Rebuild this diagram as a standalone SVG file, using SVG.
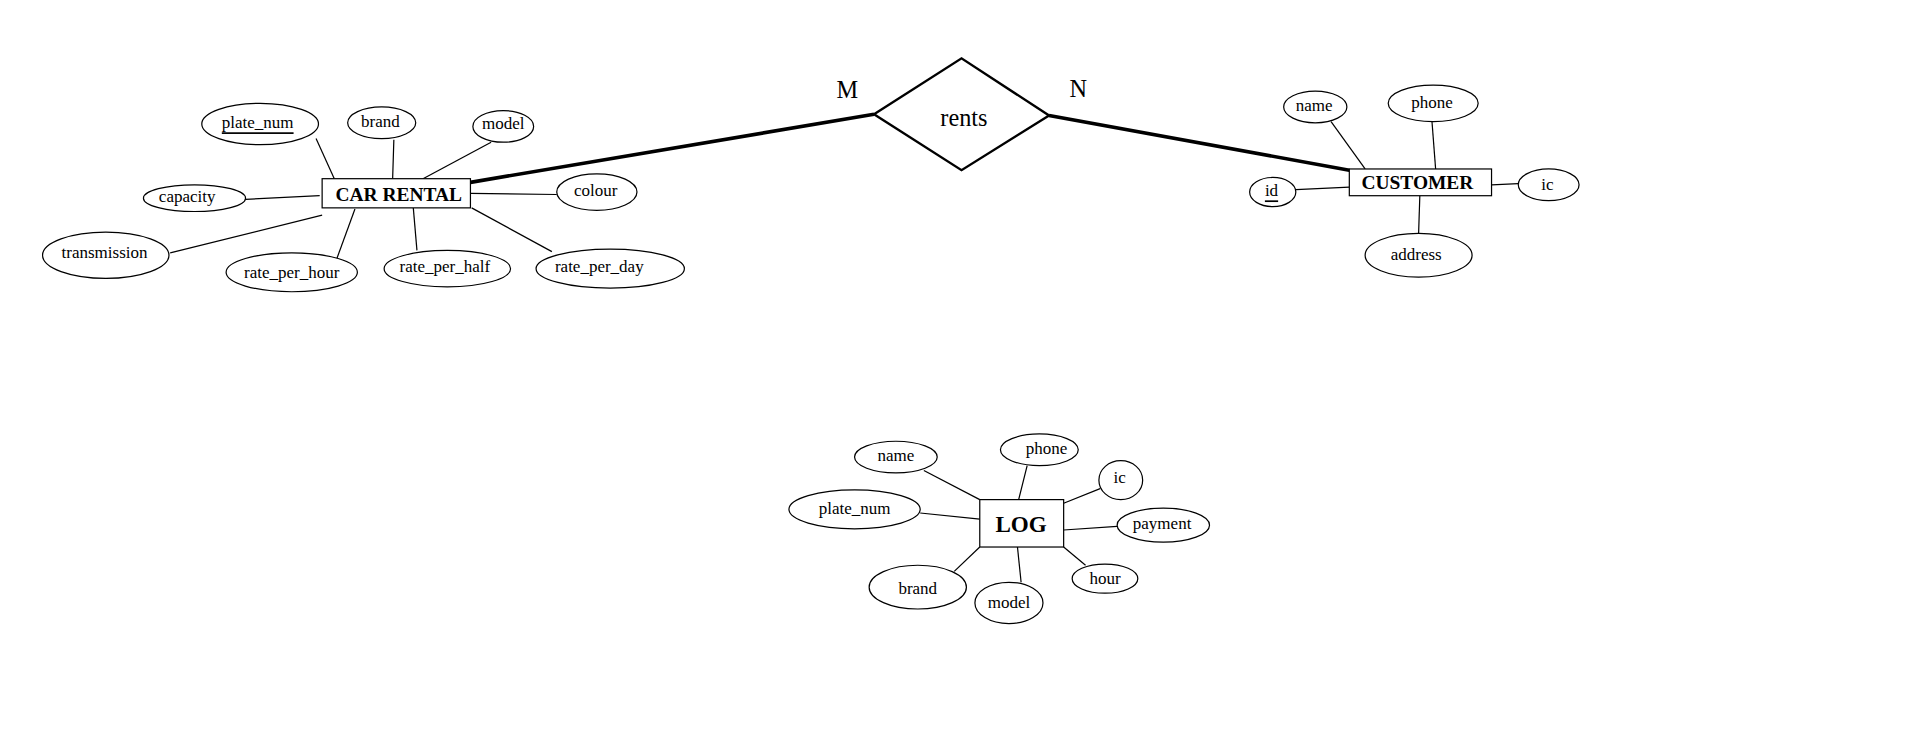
<svg xmlns="http://www.w3.org/2000/svg" width="1906" height="756" viewBox="0 0 1906 756">
<style>
ellipse{fill:#fff;stroke:#000;stroke-width:1}
rect{fill:#fff;stroke:#000;stroke-width:1}
.c line{stroke:#000;stroke-width:1}
.c .t{stroke-width:3}
text{font-family:"Liberation Serif",serif;font-size:14px;text-anchor:middle;dominant-baseline:central;fill:#000}
.e{font-weight:bold;font-size:16px}
.u{text-decoration:underline}
</style>
<rect x="0" y="0" width="1906" height="756" style="fill:#fff;stroke:none"/>
<g transform="scale(1.2156)">
<g class="c" id="connectors">
<line x1="260" y1="114" x2="275" y2="147"/><line x1="324" y1="115" x2="323" y2="147"/><line x1="404" y1="117" x2="348" y2="147"/><line x1="202" y1="164" x2="263" y2="161"/><line x1="387" y1="159" x2="458" y2="160"/><line x1="140" y1="208" x2="265" y2="177"/><line x1="292" y1="172" x2="277" y2="213"/><line x1="340" y1="171" x2="343" y2="206"/><line x1="388" y1="171" x2="454" y2="207"/>
<line class="t" x1="387" y1="150" x2="719" y2="94"/><line class="t" x1="863" y1="95" x2="1110" y2="140"/>
<line x1="1095" y1="100" x2="1123" y2="139"/><line x1="1178" y1="100" x2="1181" y2="139"/><line x1="1066" y1="156" x2="1110" y2="154"/><line x1="1227" y1="152" x2="1249" y2="151"/><line x1="1168" y1="161" x2="1167" y2="192"/>
<line x1="760" y1="387" x2="806" y2="411"/><line x1="845" y1="383" x2="838" y2="411"/><line x1="905" y1="402" x2="875" y2="414"/><line x1="757" y1="422" x2="806" y2="427"/><line x1="919" y1="433" x2="875" y2="436"/><line x1="785" y1="470" x2="806" y2="450"/><line x1="837" y1="450" x2="840" y2="479"/><line x1="875" y1="450" x2="893" y2="465"/>
</g>
<g id="car_rental"><rect x="265" y="147" width="122" height="24"/><text class="e" x="328" y="160">CAR RENTAL</text></g>
<g id="cr_plate_num"><ellipse cx="214" cy="102" rx="48" ry="17"/><text class="u" x="212" y="101">plate_num</text></g>
<g id="cr_brand"><ellipse cx="314" cy="101" rx="28" ry="13"/><text x="313" y="100">brand</text></g>
<g id="cr_model"><ellipse cx="414" cy="104" rx="25" ry="13"/><text x="414" y="102">model</text></g>
<g id="cr_capacity"><ellipse cx="160" cy="163" rx="42" ry="11"/><text x="154" y="162">capacity</text></g>
<g id="cr_colour"><ellipse cx="491" cy="158" rx="33" ry="15"/><text x="490" y="157">colour</text></g>
<g id="cr_transmission"><ellipse cx="87" cy="210" rx="52" ry="19"/><text x="86" y="208">transmission</text></g>
<g id="cr_rate_per_hour"><ellipse cx="240" cy="224" rx="54" ry="16"/><text x="240" y="224">rate_per_hour</text></g>
<g id="cr_rate_per_half"><ellipse cx="368" cy="221" rx="52" ry="15"/><text x="366" y="219">rate_per_half</text></g>
<g id="cr_rate_per_day"><ellipse cx="502" cy="221" rx="61" ry="16"/><text x="493" y="219">rate_per_day</text></g>
<g id="rents"><polygon points="719,94 791,48 863,95 791,140" style="fill:#fff;stroke:#000;stroke-width:2"/><text x="793" y="97" style="font-size:20px">rents</text></g>
<text x="697" y="74" style="font-size:20px">M</text>
<text x="887" y="73" style="font-size:20px">N</text>
<g id="customer"><rect x="1110" y="139" width="117" height="22"/><text class="e" x="1166" y="150">CUSTOMER</text></g>
<g id="cu_name"><ellipse cx="1082" cy="88" rx="26" ry="13"/><text x="1081" y="87">name</text></g>
<g id="cu_phone"><ellipse cx="1179" cy="85" rx="37" ry="15"/><text x="1178" y="84">phone</text></g>
<g id="cu_id"><ellipse cx="1047" cy="158" rx="19" ry="12"/><text class="u" x="1046" y="157">id</text></g>
<g id="cu_ic"><ellipse cx="1274" cy="152" rx="25" ry="13"/><text x="1273" y="152">ic</text></g>
<g id="cu_address"><ellipse cx="1167" cy="210" rx="44" ry="18"/><text x="1165" y="209">address</text></g>
<g id="log"><rect x="806" y="411" width="69" height="39"/><text class="e" x="840" y="431" style="font-size:19px">LOG</text></g>
<g id="lg_name"><ellipse cx="737" cy="376" rx="34" ry="13"/><text x="737" y="375">name</text></g>
<g id="lg_phone"><ellipse cx="855" cy="370" rx="32" ry="13"/><text x="861" y="369">phone</text></g>
<g id="lg_ic"><ellipse cx="922" cy="395" rx="18" ry="16"/><text x="921" y="393">ic</text></g>
<g id="lg_plate_num"><ellipse cx="703" cy="419" rx="54" ry="16"/><text x="703" y="418">plate_num</text></g>
<g id="lg_payment"><ellipse cx="957" cy="432" rx="38" ry="14"/><text x="956" y="431">payment</text></g>
<g id="lg_brand"><ellipse cx="755" cy="483" rx="40" ry="18"/><text x="755" y="484">brand</text></g>
<g id="lg_model"><ellipse cx="830" cy="496" rx="28" ry="17"/><text x="830" y="496">model</text></g>
<g id="lg_hour"><ellipse cx="909" cy="476" rx="27" ry="12"/><text x="909" y="476">hour</text></g>
</g>
</svg>
